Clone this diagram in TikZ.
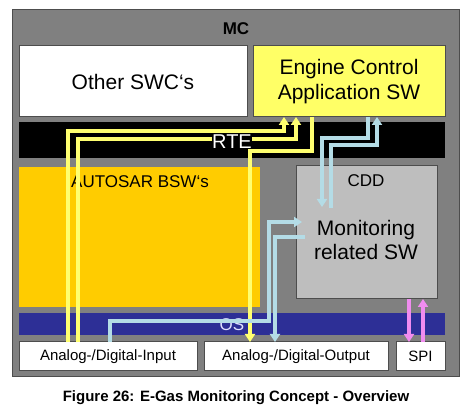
\documentclass[tikz,border=0pt]{standalone}
\usepackage{fontspec}
\setmainfont{Liberation Sans}
\usetikzlibrary{arrows.meta}
\definecolor{mcgray}{HTML}{808080}
\definecolor{edgegray}{HTML}{4D4D4D}
\definecolor{engyellow}{HTML}{FFFF66}
\definecolor{bswgold}{HTML}{FFCC00}
\definecolor{cddgray}{HTML}{BEBEBE}
\definecolor{osblue}{HTML}{2D2F96}
\definecolor{ylw}{HTML}{FFFF70}
\definecolor{lblue}{HTML}{B4DCE6}
\definecolor{pink}{HTML}{F08CF0}
\begin{document}
\begin{tikzpicture}[x=1pt,y=-1pt,
  box/.style={draw=edgegray, line width=1pt, inner sep=0pt, outer sep=0pt},
  bar/.style={inner sep=0pt, outer sep=0pt},
  big/.style={font=\fontsize{21}{24.5}\selectfont, align=center, inner sep=0pt},
  mid/.style={font=\fontsize{17}{20}\selectfont, inner sep=0pt},
  small/.style={font=\fontsize{15}{18}\selectfont, inner sep=0pt},
  conn/.style={line width=3.2pt, -{Triangle[width=10pt,length=8pt]}},
  yconn/.style={conn, draw=ylw},
  bconn/.style={conn, draw=lblue},
  pconn/.style={conn, draw=pink}]
\useasboundingbox (0,0) rectangle (474,411);
% boxes
\node[box, fill=mcgray, minimum width=447, minimum height=367] (mc) at (235.5,193.5) {};
\node[box, fill=white, minimum width=228, minimum height=71] (other) at (133,81.5) {};
\node[box, fill=engyellow, minimum width=192, minimum height=71] (eng) at (349,81.5) {};
\node[bar, fill=black, minimum width=426, minimum height=36] (rte) at (232,140) {};
\node[box, draw=none, fill=bswgold, minimum width=241, minimum height=140] (bsw) at (139.5,237) {};
\node[box, fill=cddgray, minimum width=141, minimum height=133] (cdd) at (366.5,232.5) {};
\node[bar, fill=osblue, minimum width=426, minimum height=22] (os) at (232,324) {};
\node[box, fill=white, minimum width=178, minimum height=29] (in) at (108,356.5) {};
\node[box, fill=white, minimum width=184, minimum height=29] (out) at (296,356.5) {};
\node[box, fill=white, minimum width=49, minimum height=29] (spi) at (420.5,356.5) {};
% texts
\node[font=\fontsize{17}{20}\selectfont\bfseries, inner sep=0pt] (mctext) at (236,29) {MC};
\node[big] (othertext) at (133,81.5) {Other SWC‘s};
\node[big] (engtext) at (349,81.5) {Engine Control\\Application SW};
\node[mid] (bswtext) at (140,182) {AUTOSAR BSW‘s};
\node[mid] (cddtext) at (366,181) {CDD};
\node[big] (mon) at (366,240) {Monitoring\\related SW};
\node[mid, text=white!88!blue] (ostext) at (232,325) {OS};
\node[small] (intext) at (in) {Analog-/Digital-Input};
\node[small] (outtext) at (out) {Analog-/Digital-Output};
\node[small] (spitext) at (spi) {SPI};
\node[font=\fontsize{15}{18}\selectfont\bfseries, inner sep=0pt] (caption) at (236,398) {Figure 26: E-Gas Monitoring Concept - Overview};
% connector end points inside CDD
\coordinate (c4) at (322,207);
\coordinate (c5) at (331,208);
\coordinate (c6) at (302,222);
\coordinate (c7) at (305,237);
% yellow connectors
\draw[yconn] (in.north -| 68,0) |- (284,131) -- (eng.south -| 284,0);
\draw[yconn] (in.north -| 78,0) |- (296,139) -- (eng.south -| 296,0);
\draw[yconn] (eng.south -| 312,0) |- (250,151) -- (out.north -| 250,0);
% RTE label over the bar
\node[font=\fontsize{20}{24}\selectfont, text=white, fill=black, inner sep=0.5pt] (rtetext) at (232,141.5) {RTE};
% light blue connectors
\draw[bconn] (eng.south -| 368,0) |- (322,138) -- (c4);
\draw[bconn] (c5) |- (377,145) -- (eng.south -| 377,0);
\draw[bconn] (in.north -| 110,0) |- (269,321) |- (c6);
\draw[bconn] (c7) -| (out.north -| 275,0);
% pink connectors
\draw[pconn] (cdd.south -| 409,0) -- (spi.north -| 409,0);
\draw[pconn] (spi.north -| 423,0) -- (cdd.south -| 423,0);
\end{tikzpicture}
\end{document}
